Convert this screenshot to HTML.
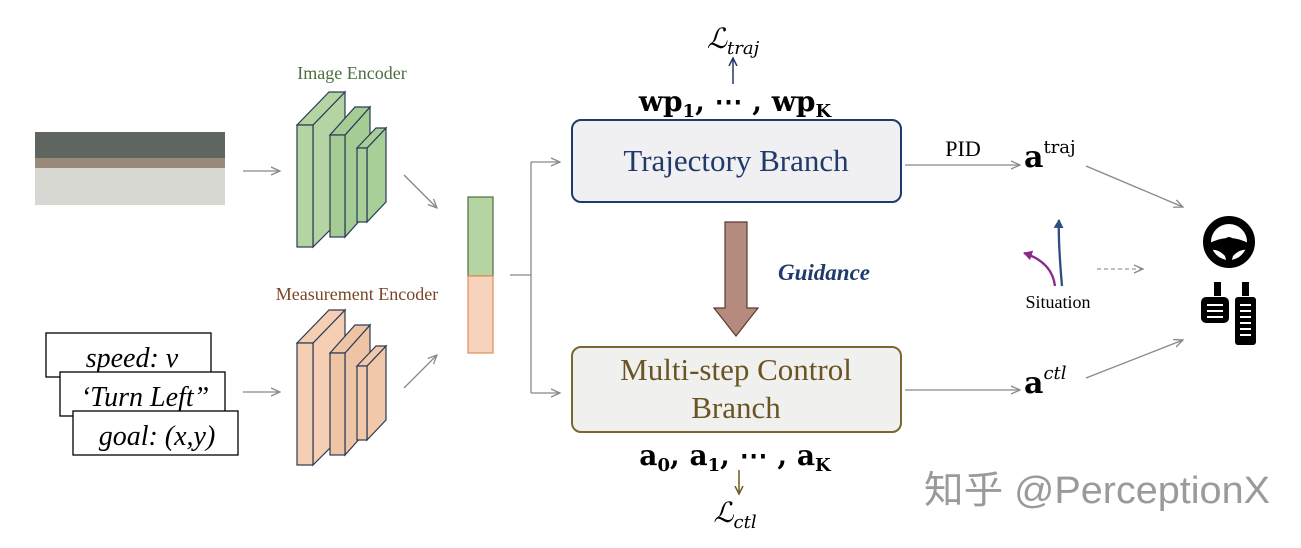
<!DOCTYPE html>
<html><head><meta charset="utf-8"><style>
body{margin:0;background:#fff}
svg{display:block;font-family:"Liberation Serif",serif}
</style></head><body>
<svg width="1301" height="548" viewBox="0 0 1301 548" xmlns="http://www.w3.org/2000/svg">
<defs>
<marker id="ga" markerWidth="10" markerHeight="10" refX="9" refY="5" orient="auto" markerUnits="userSpaceOnUse"><path d="M0,1 L9,5 L0,9" fill="none" stroke="#888" stroke-width="1.3"/></marker>
<marker id="ba" markerWidth="10" markerHeight="10" refX="8" refY="5" orient="auto" markerUnits="userSpaceOnUse"><path d="M0,0 L9,5 L0,10 Z" fill="#2e4e80"/></marker>
<marker id="pa" markerWidth="10" markerHeight="10" refX="8" refY="5" orient="auto" markerUnits="userSpaceOnUse"><path d="M0,0 L9,5 L0,10 Z" fill="#8b2a8b"/></marker>
<marker id="na" markerWidth="10" markerHeight="10" refX="8" refY="5" orient="auto" markerUnits="userSpaceOnUse"><path d="M0,1 L8,5 L0,9" fill="none" stroke="#1f3a6b" stroke-width="1.5"/></marker>
<marker id="oa" markerWidth="10" markerHeight="10" refX="8" refY="5" orient="auto" markerUnits="userSpaceOnUse"><path d="M0,1 L8,5 L0,9" fill="none" stroke="#6b5a1f" stroke-width="1.5"/></marker>
</defs>
<rect x="35" y="132" width="190" height="73" fill="#c9c9c4"/>
<rect x="35" y="132" width="190" height="32" fill="#5f6660"/>
<rect x="35" y="158" width="190" height="14" fill="#9a8a7a"/>
<rect x="35" y="168" width="190" height="37" fill="#d8d8d2"/>
<text x="352" y="79" font-size="18" fill="#4d6e3e" text-anchor="middle">Image Encoder</text>
<text x="357" y="300" font-size="18" fill="#7a4628" text-anchor="middle">Measurement Encoder</text>
<line x1="243" y1="171" x2="280" y2="171" stroke="#888" stroke-width="1.3" marker-end="url(#ga)"/>
<line x1="243" y1="392" x2="280" y2="392" stroke="#888" stroke-width="1.3" marker-end="url(#ga)"/>
<line x1="404" y1="175" x2="437" y2="208" stroke="#888" stroke-width="1.3" marker-end="url(#ga)"/>
<line x1="404" y1="388" x2="437" y2="355" stroke="#888" stroke-width="1.3" marker-end="url(#ga)"/>
<g stroke="#2b3a55" stroke-width="1.2">
<g fill="#b4d4a4"><path d="M313,125 L345,92 L345,215 L313,247Z"/><path d="M297,125 L313,125 L345,92 L329,92Z"/><rect x="297" y="125" width="16" height="122"/></g>
<g fill="#a4cc94"><path d="M345,135 L370,107 L370,209 L345,237Z"/><path d="M330,135 L345,135 L370,107 L355,107Z"/><rect x="330" y="135" width="15" height="102"/></g>
<g fill="#a8cf98"><path d="M367,148 L386,128 L386,202 L367,222Z"/><path d="M357,148 L367,148 L386,128 L376,128Z"/><rect x="357" y="148" width="10" height="74"/></g>
</g>
<g stroke="#2b3a55" stroke-width="1.2" transform="translate(0,218)">
<g fill="#f5cfb4"><path d="M313,125 L345,92 L345,215 L313,247Z"/><path d="M297,125 L313,125 L345,92 L329,92Z"/><rect x="297" y="125" width="16" height="122"/></g>
<g fill="#efc4a4"><path d="M345,135 L370,107 L370,209 L345,237Z"/><path d="M330,135 L345,135 L370,107 L355,107Z"/><rect x="330" y="135" width="15" height="102"/></g>
<g fill="#f2c8aa"><path d="M367,148 L386,128 L386,202 L367,222Z"/><path d="M357,148 L367,148 L386,128 L376,128Z"/><rect x="357" y="148" width="10" height="74"/></g>
</g>
<g fill="#fff" stroke="#000" stroke-width="1.3" font-style="italic" font-size="28">
<rect x="46" y="333" width="165" height="44"/>
<text x="132" y="367" stroke="none" fill="#000" text-anchor="middle">speed: v</text>
<rect x="60" y="372" width="165" height="44"/>
<text x="145" y="406" stroke="none" fill="#000" text-anchor="middle">‘Turn Left”</text>
<rect x="73" y="411" width="165" height="44"/>
<text x="157" y="445" stroke="none" fill="#000" text-anchor="middle">goal: (x,y)</text>
</g>
<rect x="468" y="197" width="25" height="79" fill="#b4d4a4" stroke="#4d6e3e" stroke-width="1.2"/>
<rect x="468" y="276" width="25" height="77" fill="#f8d3bb" stroke="#e08c5c" stroke-width="1.2"/>
<path d="M510,275 H531 M531,162 V393" stroke="#888" stroke-width="1.3" fill="none"/>
<line x1="531" y1="162" x2="560" y2="162" stroke="#888" stroke-width="1.3" marker-end="url(#ga)"/>
<line x1="531" y1="393" x2="560" y2="393" stroke="#888" stroke-width="1.3" marker-end="url(#ga)"/>
<rect x="572" y="120" width="329" height="82" rx="9" fill="#f0f0f2" stroke="#1f3a6b" stroke-width="2"/>
<text x="736" y="171" font-size="31" fill="#1f3a6b" text-anchor="middle">Trajectory Branch</text>
<rect x="572" y="347" width="329" height="85" rx="9" fill="#f0f0ee" stroke="#7a6630" stroke-width="2"/>
<text x="736" y="380" font-size="31" fill="#6b5424" text-anchor="middle">Multi-step Control</text>
<text x="736" y="418" font-size="31" fill="#6b5424" text-anchor="middle">Branch</text>
<path d="M725,222 H747 V308 H758 L736,336 L714,308 H725 Z" fill="#b58a7f" stroke="#5a3a30" stroke-width="1.2"/>
<text x="824" y="280" font-size="23" font-weight="bold" font-style="italic" fill="#1f3a6b" text-anchor="middle">Guidance</text>
<text x="733" y="48" font-size="28" font-style="italic" text-anchor="middle" font-family="DejaVu Serif,serif">ℒ<tspan font-size="18" dy="6">traj</tspan></text>
<line x1="733" y1="84" x2="733" y2="58" stroke="#1f3a6b" stroke-width="1.5" marker-end="url(#na)"/>
<text x="735" y="111" font-size="28" font-weight="bold" text-anchor="middle" font-family="DejaVu Serif,serif">wp<tspan font-size="18" dy="6">1</tspan><tspan dy="-6">, ⋯ , wp</tspan><tspan font-size="18" dy="6">K</tspan></text>
<text x="735" y="465" font-size="28" font-weight="bold" text-anchor="middle" font-family="DejaVu Serif,serif">a<tspan font-size="18" dy="6">0</tspan><tspan dy="-6">, a</tspan><tspan font-size="18" dy="6">1</tspan><tspan dy="-6">, ⋯ , a</tspan><tspan font-size="18" dy="6">K</tspan></text>
<line x1="739" y1="470" x2="739" y2="494" stroke="#6b5a1f" stroke-width="1.5" marker-end="url(#oa)"/>
<text x="735" y="522" font-size="28" font-style="italic" text-anchor="middle" font-family="DejaVu Serif,serif">ℒ<tspan font-size="18" dy="6">ctl</tspan></text>
<text x="963" y="156" font-size="22" text-anchor="middle">PID</text>
<line x1="905" y1="165" x2="1020" y2="165" stroke="#888" stroke-width="1.3" marker-end="url(#ga)"/>
<line x1="905" y1="390" x2="1020" y2="390" stroke="#888" stroke-width="1.3" marker-end="url(#ga)"/>
<text x="1024" y="167" font-size="30" font-weight="bold" font-family="DejaVu Serif,serif">a<tspan font-size="18" dy="-14" font-weight="normal">traj</tspan></text>
<text x="1024" y="393" font-size="30" font-weight="bold" font-family="DejaVu Serif,serif">a<tspan font-size="18" dy="-14" font-weight="normal" font-style="italic">ctl</tspan></text>
<line x1="1086" y1="166" x2="1183" y2="207" stroke="#888" stroke-width="1.3" marker-end="url(#ga)"/>
<line x1="1086" y1="378" x2="1183" y2="340" stroke="#888" stroke-width="1.3" marker-end="url(#ga)"/>
<path d="M1062,286 Q1058,240 1059,220" stroke="#2e4e80" stroke-width="2.3" fill="none" marker-end="url(#ba)"/>
<path d="M1055,286 Q1052,262 1024,253" stroke="#8b2a8b" stroke-width="2.3" fill="none" marker-end="url(#pa)"/>
<text x="1058" y="308" font-size="18" text-anchor="middle">Situation</text>
<line x1="1097" y1="269" x2="1143" y2="269" stroke="#999" stroke-width="1.3" stroke-dasharray="4,3" marker-end="url(#ga)"/>
<circle cx="1229" cy="242" r="22" fill="none" stroke="#000" stroke-width="8"/>
<circle cx="1229" cy="242" r="5" fill="#000"/>
<path d="M1208,244 Q1229,232 1250,244 L1250,250 Q1240,248 1233,256 L1231,263 L1227,263 L1225,256 Q1218,248 1208,250Z" fill="#000"/>
<rect x="1214" y="282" width="7" height="14" fill="#000"/>
<rect x="1242" y="282" width="7" height="14" fill="#000"/>
<rect x="1201" y="297" width="28" height="26" rx="5" fill="#000"/>
<rect x="1235" y="297" width="21" height="48" rx="3" fill="#000"/>
<g stroke="#fff" stroke-width="2"><line x1="1207" y1="305" x2="1223" y2="305"/><line x1="1207" y1="311" x2="1223" y2="311"/><line x1="1207" y1="317" x2="1223" y2="317"/>
<line x1="1240" y1="305" x2="1251" y2="305"/><line x1="1240" y1="311" x2="1251" y2="311"/><line x1="1240" y1="317" x2="1251" y2="317"/><line x1="1240" y1="323" x2="1251" y2="323"/><line x1="1240" y1="329" x2="1251" y2="329"/><line x1="1240" y1="335" x2="1251" y2="335"/></g>
<text x="924" y="503" font-size="38" fill="#9a9a9a" textLength="346" lengthAdjust="spacingAndGlyphs" font-family="Liberation Sans,Noto Sans CJK SC,sans-serif">知乎 @PerceptionX</text>
</svg>
</body></html>
